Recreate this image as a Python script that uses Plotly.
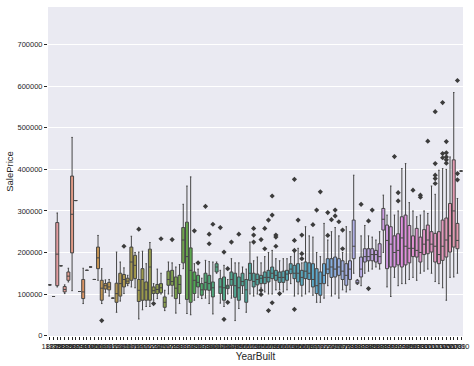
import math
import colorsys
import plotly.graph_objects as go

# ---------------- data ----------------
years = ["1872", "1875", "1880", "1882", "1885", "1890", "1892", "1893", "1898", "1900",
         "1904", "1905", "1906", "1908", "1910", "1911", "1912", "1913", "1914", "1915",
         "1916", "1917", "1918", "1919", "1920", "1921", "1922", "1923", "1924", "1925",
         "1926", "1927", "1928", "1929", "1930", "1931", "1932", "1934", "1935", "1936",
         "1937", "1938", "1939", "1940", "1941", "1942", "1945", "1946", "1947", "1948",
         "1949", "1950", "1951", "1952", "1953", "1954", "1955", "1956", "1957", "1958",
         "1959", "1960", "1961", "1962", "1963", "1964", "1965", "1966", "1967", "1968",
         "1969", "1970", "1971", "1972", "1973", "1974", "1975", "1976", "1977", "1978",
         "1979", "1980", "1981", "1982", "1983", "1984", "1985", "1986", "1987", "1988",
         "1989", "1990", "1991", "1992", "1993", "1994", "1995", "1996", "1997", "1998",
         "1999", "2000", "2001", "2002", "2003", "2004", "2005", "2006", "2007", "2008",
         "2009", "2010"]

lower_whisker = [122000, 94000, 117000, 168000, 101000, 129000, 108000, 325000, 106000, 77000,
                 157000, 165000, 135000, 133000, 77000, 104000, 95000, 90000, 56000, 83000,
                 101000, 120000, 117000, 115000, 40000, 62000, 70000, 70000, 85000, 89000,
                 100000, 60000, 100000, 95000, 54000, 77000, 161000, 53000, 50000, 85000,
                 92000, 89000, 90000, 77000, 52000, 150000, 78000, 70000, 100000, 90000,
                 36000, 65000, 101000, 56000, 100000, 95000, 100000, 115000, 105000, 100000,
                 100000, 110000, 110000, 105000, 110000, 125000, 95000, 100000, 95000, 100000,
                 105000, 97000, 80000, 80000, 90000, 120000, 95000, 100000, 90000, 110000,
                 105000, 110000, 150000, 123000, 120000, 150000, 155000, 160000, 165000, 160000,
                 200000, 117000, 94000, 140000, 120000, 125000, 125000, 135000, 140000, 133000,
                 150000, 155000, 160000, 150000, 130000, 125000, 115000, 85000, 140000, 141000,
                 150000, 396000]
q1 = [122000, 94000, 120000, 168000, 105000, 133000, 199000, 325000, 106000, 89000,
      157000, 165000, 135000, 161000, 85000, 112000, 110000, 90000, 80000, 95000,
      117000, 125000, 133000, 137000, 82000, 85000, 85000, 85000, 101000, 101000,
      103000, 68000, 121000, 121000, 89000, 101000, 175000, 87000, 80000, 101000,
      117000, 97000, 110000, 109000, 93000, 153000, 101000, 85000, 113000, 121000,
      92000, 85000, 120000, 80000, 133000, 117000, 122000, 125000, 125000, 129000,
      137000, 133000, 128000, 128000, 133000, 149000, 137000, 129000, 121000, 137000,
      135000, 117000, 101000, 97000, 125000, 149000, 140000, 141000, 145000, 135000,
      121000, 135000, 185000, 125000, 141000, 177000, 180000, 180000, 177000, 173000,
      254000, 161000, 165000, 165000, 170000, 165000, 170000, 175000, 190000, 189000,
      177000, 195000, 197000, 201000, 177000, 173000, 181000, 189000, 201000, 213000,
      209000, 396000]
median = [122000, 94000, 196000, 168000, 111000, 143000, 292000, 325000, 106000, 105000,
          157000, 165000, 135000, 187000, 114000, 120000, 117000, 90000, 101000, 125000,
          135000, 131000, 177000, 169000, 109000, 135000, 110000, 165000, 108000, 111000,
          115000, 80000, 135000, 130000, 114000, 123000, 230000, 190000, 157000, 133000,
          128000, 110000, 128000, 125000, 115000, 165000, 117000, 115000, 117000, 135000,
          120000, 115000, 130000, 110000, 150000, 130000, 135000, 138000, 140000, 140000,
          150000, 145000, 140000, 140000, 148000, 160000, 150000, 150000, 140000, 155000,
          150000, 135000, 120000, 125000, 145000, 160000, 165000, 160000, 165000, 155000,
          145000, 160000, 215000, 128000, 160000, 190000, 190000, 195000, 195000, 190000,
          280000, 229000, 220000, 200000, 205000, 235000, 215000, 210000, 210000, 205000,
          200000, 220000, 230000, 220000, 215000, 195000, 215000, 230000, 240000, 300000,
          229000, 396000]
q3 = [122000, 94000, 272000, 168000, 118000, 153000, 384000, 325000, 106000, 135000,
      157000, 165000, 135000, 213000, 133000, 125000, 128000, 90000, 126000, 150000,
      147000, 138000, 213000, 193000, 135000, 161000, 129000, 208000, 117000, 123000,
      125000, 93000, 155000, 157000, 141000, 145000, 260000, 273000, 211000, 153000,
      145000, 125000, 150000, 145000, 129000, 173000, 137000, 141000, 121000, 153000,
      150000, 141000, 150000, 135000, 174000, 150000, 148000, 145000, 153000, 157000,
      165000, 157000, 153000, 155000, 157000, 173000, 169000, 173000, 157000, 177000,
      175000, 173000, 161000, 153000, 173000, 185000, 185000, 189000, 185000, 180000,
      173000, 180000, 278000, 133000, 189000, 209000, 209000, 209000, 205000, 221000,
      306000, 266000, 262000, 240000, 245000, 286000, 290000, 265000, 240000, 258000,
      237000, 255000, 266000, 250000, 246000, 250000, 278000, 283000, 318000, 423000,
      270000, 396000]
upper_whisker = [122000, 94000, 295000, 168000, 122000, 162000, 477000, 325000, 106000, 162000,
                 157000, 165000, 135000, 241000, 161000, 134000, 135000, 90000, 201000, 177000,
                 163000, 145000, 239000, 200000, 201000, 203000, 173000, 224000, 125000, 160000,
                 150000, 109000, 177000, 175000, 165000, 171000, 316000, 360000, 382000, 173000,
                 160000, 138000, 181000, 178000, 177000, 177000, 157000, 169000, 135000, 185000,
                 175000, 175000, 165000, 160000, 225000, 180000, 189000, 175000, 190000, 200000,
                 205000, 185000, 180000, 185000, 185000, 190000, 200000, 210000, 175000, 262000,
                 240000, 237000, 200000, 190000, 270000, 230000, 250000, 260000, 240000, 200000,
                 262000, 250000, 386000, 135000, 240000, 265000, 240000, 237000, 230000, 250000,
                 338000, 290000, 360000, 290000, 300000, 402000, 414000, 320000, 300000, 286000,
                 290000, 300000, 294000, 360000, 340000, 398000, 402000, 400000, 430000, 585000,
                 330000, 396000]

outlier_year = ["1910", "1916", "1920", "1924", "1926", "1929", "1936", "1937", "1939",
                "1940", "1940", "1941", "1945", "1946", "1946", "1947", "1947", "1948",
                "1950", "1954", "1954", "1954", "1956", "1956", "1956", "1957", "1957",
                "1958", "1958", "1959", "1959", "1959", "1960", "1960", "1960", "1961",
                "1965", "1965", "1965", "1965", "1966", "1967", "1967", "1967", "1970",
                "1971", "1972", "1974", "1974", "1975", "1976", "1976", "1977", "1978",
                "1978", "1983", "1985", "1985", "1986", "1992", "1993", "1993", "1997",
                "1999", "1999", "2001", "2003", "2003", "2003", "2003", "2003", "2005",
                "2005", "2005", "2006", "2006", "2006", "2006", "2006", "2009", "2009",
                "2009"]
outlier_price = [36000, 215000, 256000, 77000, 233000, 231000, 252000, 175000, 311000,
                 244000, 221000, 268000, 260000, 201000, 39000, 80000, 161000, 225000,
                 244000, 258000, 242000, 225000, 231000, 109000, 99000, 258000, 209000,
                 278000, 60000, 336000, 290000, 79000, 242000, 237000, 215000, 101000,
                 376000, 229000, 205000, 63000, 278000, 242000, 197000, 185000, 267000,
                 302000, 346000, 296000, 241000, 279000, 302000, 288000, 274000, 254000,
                 209000, 316000, 276000, 113000, 302000, 431000, 344000, 324000, 350000,
                 338000, 333000, 468000, 539000, 414000, 386000, 378000, 366000, 561000,
                 438000, 428000, 467000, 440000, 430000, 423000, 415000, 614000, 390000,
                 375000]

y_ticks = [0, 100000, 200000, 300000, 400000, 500000, 600000, 700000]


# ---------------- seaborn-like husl palette ----------------
_M = [[3.2406, -1.5372, -0.4986], [-0.9689, 1.8758, 0.0415], [0.0557, -0.2040, 1.0570]]
_refU, _refV = 0.19784, 0.46834
_eps, _kap = 0.008856, 903.3


def _max_chroma(L, H):
    hrad = math.radians(H)
    sinH, cosH = math.sin(hrad), math.cos(hrad)
    sub1 = (L + 16) ** 3 / 1560896.0
    sub2 = sub1 if sub1 > _eps else L / _kap
    result = float("inf")
    for m1, m2, m3 in _M:
        top = (0.99915 * m1 + 1.05122 * m2 + 1.14460 * m3) * sub2
        rbottom = 0.86330 * m3 - 0.17266 * m2
        lbottom = 0.12949 * m3 - 0.38848 * m1
        bottom = (rbottom * sinH + lbottom * cosH) * sub2
        for t in (0.0, 1.0):
            C = L * (top - 1.05122 * t) / (bottom + 0.17266 * sinH * t)
            if 0.0 < C < result:
                result = C
    return result


def _husl_to_rgb(H, S, L):
    C = _max_chroma(L, H) / 100.0 * S
    hrad = math.radians(H)
    U, V = math.cos(hrad) * C, math.sin(hrad) * C
    Y = ((L + 16) / 116.0) ** 3 if L > 8 else L / _kap
    varU = U / (13.0 * L) + _refU
    varV = V / (13.0 * L) + _refV
    X = -(9.0 * Y * varU) / ((varU - 4.0) * varV - varU * varV)
    Z = (9.0 * Y - 15.0 * varV * Y - varV * X) / (3.0 * varV)
    out = []
    for row in _M:
        c = row[0] * X + row[1] * Y + row[2] * Z
        c = 12.92 * c if c <= 0.0031308 else 1.055 * c ** (1 / 2.4) - 0.055
        out.append(min(max(c, 0.0), 1.0))
    return out


def husl_palette(n, h=0.01, s=0.9, l=0.7):
    cols = []
    for k in range(n):
        hue = ((k / n + h) % 1) * 359
        cols.append(_husl_to_rgb(hue, s * 99, l * 99))
    return cols


def desaturate(rgb, prop):
    hh, ll, ss = colorsys.rgb_to_hls(*rgb)
    return colorsys.hls_to_rgb(hh, ll, ss * prop)


pal = [desaturate(c, 0.65) for c in husl_palette(len(years))]
gray = "rgb(70,70,70)"


def to_css(c):
    return "rgb({},{},{})".format(*[int(round(v * 255)) for v in c])


# ---------------- figure ----------------
fig = go.Figure()
for i, yr in enumerate(years):
    fig.add_trace(go.Box(
        x=[yr], q1=[q1[i]], median=[median[i]], q3=[q3[i]],
        lowerfence=[lower_whisker[i]], upperfence=[upper_whisker[i]],
        fillcolor=to_css(pal[i]), line=dict(color=gray, width=1),
        width=0.8, whiskerwidth=0.5, boxpoints=False, showlegend=False,
        name=yr,
    ))

fig.add_trace(go.Scatter(
    x=outlier_year, y=outlier_price, mode="markers",
    marker=dict(symbol="diamond", size=4, color="rgb(60,60,60)"),
    showlegend=False,
))

font_family = "Liberation Sans, Arial, sans-serif"
fig.update_layout(
    width=474, height=366,
    margin=dict(l=48, r=11, t=7, b=30),
    paper_bgcolor="white", plot_bgcolor="#EAEAF2",
    boxmode="overlay",
    font=dict(family=font_family, color="#262626", size=7.5),
    xaxis=dict(
        type="category", categoryorder="array", categoryarray=years,
        tickmode="array", tickvals=years, ticktext=years, tickangle=0,
        range=[-0.5, len(years) - 0.5], automargin=False,
        showgrid=False, zeroline=False, showline=False,
        ticks="outside", ticklen=3, tickcolor="#262626",
        ticklabelstandoff=0,
        tickfont=dict(size=7.5),
        title=dict(text="YearBuilt", font=dict(size=10), standoff=0),
    ),
    yaxis=dict(
        range=[-1105, 791005], automargin=False,
        tickmode="array", tickvals=y_ticks, tickformat="d",
        showgrid=True, gridcolor="white", gridwidth=1,
        zeroline=False, showline=False,
        ticks="outside", ticklen=3, tickcolor="#262626",
        tickfont=dict(size=7.5),
        title=dict(text="SalePrice", font=dict(size=9.5), standoff=2),
    ),
)

fig.write_html(
    "out.html",
    config={"displayModeBar": False},
    post_script="document.body.style.margin='0';document.body.style.overflow='hidden';",
)
